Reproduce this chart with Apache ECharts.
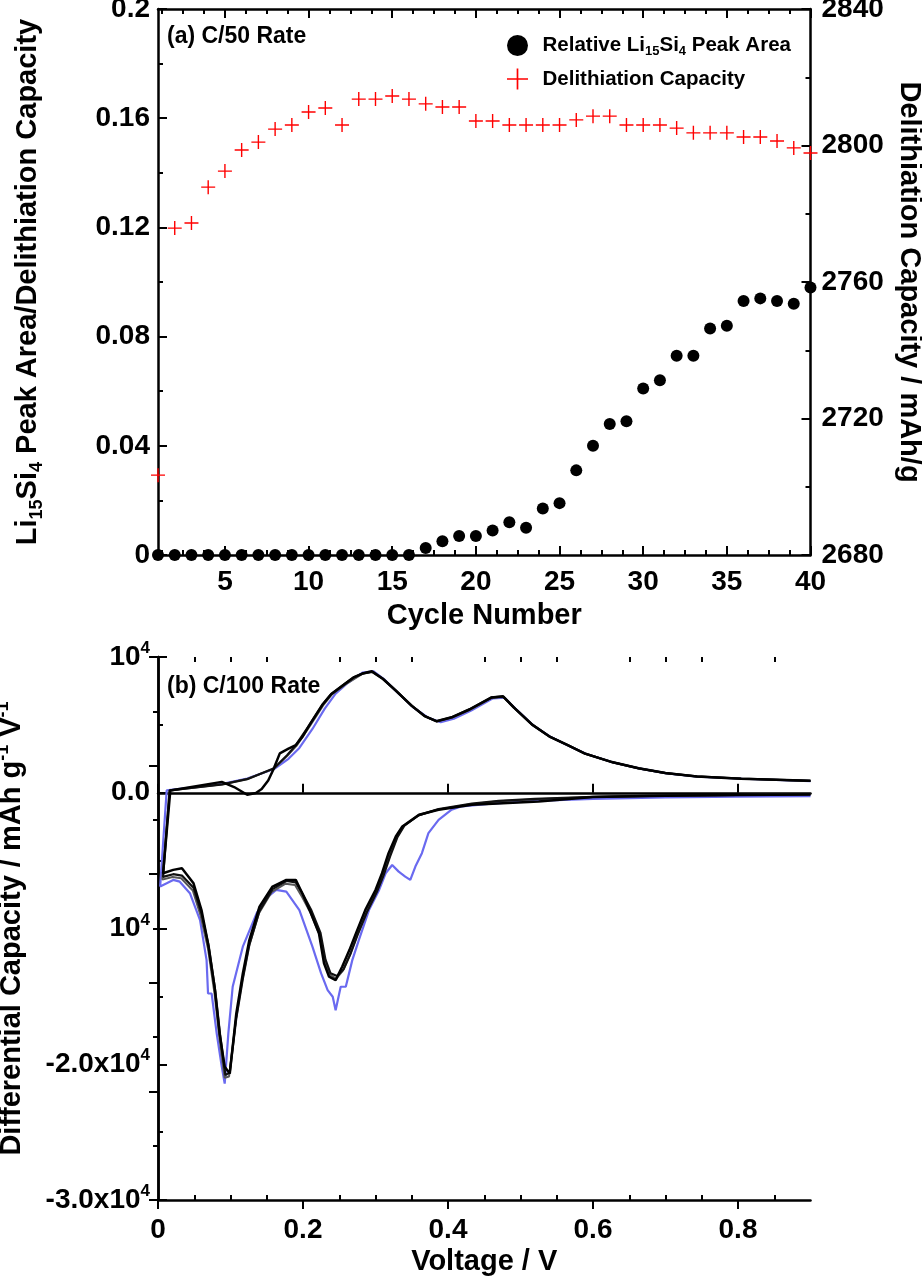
<!DOCTYPE html>
<html><head><meta charset="utf-8">
<script src="https://cdn.jsdelivr.net/npm/echarts@6/dist/echarts.min.js"></script>
<style>html,body{margin:0;padding:0;background:#fff}#c{width:922px;height:1280px}</style>
</head><body><div id="c"></div>
<script>
// ---------- (a) C/50 rate ----------
const cycles = [1,2,3,4,5,6,7,8,9,10,11,12,13,14,15,16,17,18,19,20,21,22,23,24,25,26,27,28,29,30,31,32,33,34,35,36,37,38,39,40];
const peakArea = [0,0,0,0,0,0,0,0,0,0,0,0,0,0,0,0,0.0026,0.005,0.007,0.007,0.009,0.012,0.010,0.017,0.019,0.031,0.040,0.048,0.049,0.061,0.064,0.073,0.073,0.083,0.084,0.093,0.094,0.093,0.092,0.098];
const delithCap = [2703.4,2775.8,2777.3,2787.8,2792.5,2798.7,2801.0,2804.8,2806.0,2809.8,2811.0,2806.0,2813.6,2813.6,2814.5,2813.6,2812.2,2811.3,2811.3,2807.2,2807.2,2806.0,2806.0,2806.0,2806.0,2807.5,2808.6,2808.6,2806.0,2806.0,2806.0,2805.1,2803.7,2803.7,2803.7,2802.5,2802.5,2801.3,2799.3,2797.8];
const cycleTickLabels = [5,10,15,20,25,30,35,40];

// ---------- (b) C/100 rate : [voltage, dQ/dV] ----------
const cycleBlue = [[0.900,-250],[0.800,-280],[0.700,-350],[0.600,-450],[0.520,-600],[0.460,-800],[0.419,-1000],[0.405,-1250],[0.387,-2000],[0.373,-2980],[0.364,-4450],[0.355,-5440],[0.348,-6420],[0.341,-6180],[0.332,-5810],[0.323,-5320],[0.314,-5930],[0.305,-7160],[0.291,-8640],[0.277,-10850],[0.268,-12330],[0.259,-14290],[0.252,-14290],[0.245,-16020],[0.241,-15030],[0.234,-14540],[0.225,-13310],[0.213,-11340],[0.195,-8640],[0.177,-7280],[0.163,-7160],[0.149,-7780],[0.136,-8880],[0.117,-11340],[0.103,-14290],[0.097,-17740],[0.092,-21430],[0.088,-20190],[0.081,-17740],[0.074,-14790],[0.069,-14790],[0.067,-12330],[0.058,-9380],[0.044,-7400],[0.030,-6550],[0.021,-6420],[0.012,-6670],[0.003,-6900],
 [0.012,170],[0.089,650],[0.123,1050],[0.160,1750],[0.180,2500],[0.195,3300],[0.213,4700],[0.230,6200],[0.245,7300],[0.262,8100],[0.282,8850],[0.297,8950],[0.312,8350],[0.330,7400],[0.352,6300],[0.372,5550],[0.390,5200],[0.408,5450],[0.432,6050],[0.462,6950],[0.478,7000],[0.493,6200],[0.518,4950],[0.542,4100],[0.567,3450],[0.591,2850],[0.628,2230],[0.665,1780],[0.702,1430],[0.745,1180],[0.806,1030],[0.900,860]];
const cycleGray = [[0.900,-110],[0.800,-160],[0.700,-220],[0.600,-310],[0.522,-470],[0.470,-620],[0.431,-840],[0.385,-1250],[0.358,-1700],[0.338,-2500],[0.328,-3400],[0.318,-4800],[0.309,-6200],[0.300,-7400],[0.287,-8900],[0.274,-10600],[0.265,-11900],[0.255,-13100],[0.246,-13700],[0.237,-13400],[0.230,-12400],[0.223,-10500],[0.210,-8800],[0.199,-7700],[0.189,-6800],[0.176,-6700],[0.157,-7300],[0.139,-8900],[0.125,-11400],[0.116,-13900],[0.107,-16900],[0.098,-20900],[0.092,-21000],[0.085,-18200],[0.078,-14800],[0.069,-11500],[0.059,-9100],[0.048,-7200],[0.032,-6300],[0.020,-6200],[0.006,-6400],
 [0.016,170],[0.089,630],[0.123,1010],[0.160,1780],[0.178,2700],[0.191,3450],[0.210,4950],[0.228,6450],[0.240,7250],[0.259,8000],[0.283,8800],[0.296,8920],[0.311,8380],[0.329,7500],[0.351,6380],[0.369,5620],[0.385,5250],[0.406,5540],[0.431,6130],[0.461,7000],[0.477,7060],[0.492,6250],[0.517,5000],[0.541,4120],[0.566,3490],[0.590,2870],[0.627,2250],[0.664,1790],[0.701,1440],[0.744,1190],[0.805,1040],[0.900,870]];
const cycleBlackB = [[0.900,-100],[0.800,-150],[0.700,-200],[0.600,-300],[0.520,-450],[0.470,-600],[0.433,-800],[0.387,-1200],[0.360,-1650],[0.340,-2400],[0.330,-3300],[0.320,-4700],[0.311,-6100],[0.302,-7300],[0.288,-8800],[0.275,-10500],[0.266,-11800],[0.256,-13000],[0.247,-13500],[0.238,-13300],[0.231,-12300],[0.224,-10300],[0.211,-8600],[0.200,-7500],[0.190,-6600],[0.177,-6500],[0.158,-7100],[0.140,-8700],[0.126,-11200],[0.117,-13700],[0.108,-16600],[0.099,-20600],[0.093,-20800],[0.086,-18000],[0.079,-14600],[0.070,-11300],[0.060,-8900],[0.049,-7000],[0.033,-6100],[0.021,-6000],[0.007,-6200],
 [0.016,170],[0.089,620],[0.123,1000],[0.160,1800],[0.178,2760],[0.190,3500],[0.209,5000],[0.227,6500],[0.239,7270],[0.258,8030],[0.270,8500],[0.282,8780],[0.295,8900],[0.310,8400],[0.328,7520],[0.350,6400],[0.368,5640],[0.384,5270],[0.405,5560],[0.430,6150],[0.460,7020],[0.476,7080],[0.491,6270],[0.516,5020],[0.540,4140],[0.565,3510],[0.589,2880],[0.626,2260],[0.663,1800],[0.700,1450],[0.743,1200],[0.804,1050],[0.900,880]];
const cycleBlackA = [[0.900,-120],[0.800,-170],[0.700,-230],[0.600,-320],[0.525,-640],[0.433,-890],[0.387,-1250],[0.360,-1620],[0.337,-2490],[0.328,-3220],[0.318,-4450],[0.309,-5930],[0.300,-7160],[0.286,-8630],[0.273,-10360],[0.264,-11590],[0.254,-12820],[0.245,-13800],[0.236,-13550],[0.229,-12570],[0.222,-10360],[0.209,-8630],[0.199,-7400],[0.190,-6420],[0.177,-6420],[0.158,-6910],[0.140,-8390],[0.126,-10850],[0.117,-13310],[0.108,-16260],[0.099,-20690],[0.092,-20190],[0.085,-17730],[0.078,-14290],[0.069,-11100],[0.060,-8640],[0.049,-6670],[0.033,-5560],[0.021,-5680],[0.007,-5930],
 [0.017,170],[0.088,800],[0.105,420],[0.123,-150],[0.135,-20],[0.143,270],[0.152,900],[0.159,1700],[0.168,2900],[0.180,3250],[0.190,3500],[0.199,4100],[0.209,5000],[0.227,6500],[0.239,7270],[0.258,8030],[0.270,8500],[0.282,8780],[0.295,8950],[0.310,8400],[0.328,7520],[0.350,6400],[0.368,5640],[0.384,5270],[0.405,5560],[0.430,6150],[0.460,7020],[0.476,7100],[0.491,6270],[0.516,5020],[0.540,4140],[0.565,3510],[0.589,2880],[0.626,2260],[0.663,1800],[0.700,1450],[0.743,1200],[0.804,1030],[0.900,880]];
const voltageTickLabels = [0,0.2,0.4,0.6,0.8];
const dqdvTicks = [-30000,-20000,-10000,0,10000];
const dqdvTickText = [['-3.0x10','4'],['-2.0x10','4'],['10','4'],['0.0',''],['10','4']];

// ---------- styling ----------
const FF = '"Liberation Sans", Arial, Helvetica, sans-serif';
const BLK = '#000';
const AX = {color: BLK, width: 2.5};
const TK = {color: BLK, width: 2};
const lbl = (extra) => Object.assign({color: BLK, fontSize: 28, fontWeight: 'bold', fontFamily: FF}, extra);
const PLUS = 'path://M0,9h20v2h-20z M9,0h2v20h-2z';
const PLUS_LEG = 'path://M0,9.2h20v1.6h-20z M9.2,0h1.6v20h-1.6z';

const minorCycle = [];
for (let k = 1; k * 1.25 < 40; k++) { if (k % 4 !== 0) minorCycle.push(k * 1.25); }
const minorVolt = [];
for (let k = 1; k * 0.05 < 0.9 - 1e-9; k++) { if (k % 4 !== 0) minorVolt.push(+(k * 0.05).toFixed(2)); }

function tickOnlyX(grid, min, max, pos, vals, len, showLine) {
  return {type: 'value', gridIndex: grid, min, max, position: pos,
    axisLine: {show: showLine, lineStyle: AX}, splitLine: {show: false},
    axisLabel: {show: false},
    axisTick: {show: true, inside: true, length: len, lineStyle: TK, customValues: vals}};
}

const subRich = {
  n: {fontSize: 29, fontWeight: 'bold', fontFamily: FF, color: BLK, lineHeight: 36},
  s: {fontSize: 18, fontWeight: 'bold', fontFamily: FF, color: BLK, lineHeight: 18, verticalAlign: 'bottom'},
  p: {fontSize: 18, fontWeight: 'bold', fontFamily: FF, color: BLK, lineHeight: 18, verticalAlign: 'top'}
};

const chart = echarts.init(document.getElementById('c'), null, {renderer: 'canvas'});
chart.setOption({
  animation: false,
  backgroundColor: '#fff',
  grid: [
    {left: 158, top: 9, width: 652.5, height: 546, outerBoundsMode: 'none'},
    {left: 158, top: 657, width: 652.5, height: 543, outerBoundsMode: 'none'}
  ],
  legend: {
    show: true, orient: 'vertical', left: 502, top: 30, itemWidth: 40, itemHeight: 21, itemGap: 11,
    selectedMode: false,
    data: [{name: 'Relative Li15Si4 Peak Area', icon: 'circle'}, {name: 'Delithiation Capacity', icon: PLUS_LEG}],
    formatter: (n) => n === 'Relative Li15Si4 Peak Area' ? '{t|Relative Li}{s|15}{t|Si}{s|4}{t| Peak Area}' : '{t|' + n + '}',
    textStyle: {color: BLK, fontSize: 20.5, fontWeight: 'bold', fontFamily: FF,
      rich: {t: {fontSize: 20.5, fontWeight: 'bold', fontFamily: FF, color: BLK, lineHeight: 24},
             s: {fontSize: 13, fontWeight: 'bold', fontFamily: FF, color: BLK, lineHeight: 13, verticalAlign: 'bottom'}}}
  },
  graphic: [
    {type: 'text', left: 167, top: 25, style: {text: '(a) C/50 Rate', fill: BLK, font: 'bold 23px ' + FF}},
    {type: 'text', left: 167, top: 675, style: {text: '(b) C/100 Rate', fill: BLK, font: 'bold 23px ' + FF}}
  ],
  xAxis: [
    {type: 'value', gridIndex: 0, min: 1, max: 40, position: 'bottom',
      axisLine: {show: true, lineStyle: AX}, splitLine: {show: false},
      axisTick: {show: true, inside: true, length: 9, lineStyle: TK, customValues: cycleTickLabels},
      axisLabel: lbl({margin: 13, customValues: cycleTickLabels}),
      name: 'Cycle Number', nameLocation: 'middle', nameGap: 46,
      nameTextStyle: {color: BLK, fontSize: 29, fontWeight: 'bold', fontFamily: FF}},
    tickOnlyX(0, 1, 40, 'top', cycleTickLabels, 9, true),
    tickOnlyX(0, 1, 40, 'top', minorCycle, 5, false),
    tickOnlyX(0, 1, 40, 'bottom', minorCycle, 5, false),
    {type: 'value', gridIndex: 1, min: 0, max: 0.9, position: 'bottom',
      axisLine: {show: true, lineStyle: AX}, splitLine: {show: false},
      axisTick: {show: true, inside: true, length: 9, lineStyle: TK, customValues: voltageTickLabels},
      axisLabel: lbl({margin: 16, customValues: voltageTickLabels, formatter: (v) => v === 0 ? '0' : v.toFixed(1)}),
      name: 'Voltage / V', nameLocation: 'middle', nameGap: 47,
      nameTextStyle: {color: BLK, fontSize: 29, fontWeight: 'bold', fontFamily: FF}},
    tickOnlyX(1, 0, 0.9, 'top', voltageTickLabels, 9, true),
    tickOnlyX(1, 0, 0.9, 'top', minorVolt, 5, false),
    tickOnlyX(1, 0, 0.9, 'bottom', minorVolt, 5, false)
  ],
  yAxis: [
    {type: 'value', gridIndex: 0, min: 0, max: 0.2, interval: 0.04, position: 'left',
      axisLine: {show: true, lineStyle: AX}, splitLine: {show: false},
      axisTick: {show: true, inside: true, length: 9, lineStyle: TK},
      minorTick: {show: true, splitNumber: 2, length: 5, lineStyle: TK},
      axisLabel: lbl({margin: 8}),
      name: '{n|Li}{s|15}{n|Si}{s|4}{n| Peak Area/Delithiation Capacity}', nameLocation: 'middle', nameGap: 112, nameRotate: 90,
      nameTextStyle: {rich: subRich}},
    {type: 'value', gridIndex: 0, min: 2680, max: 2840, interval: 40, position: 'right',
      axisLine: {show: true, lineStyle: AX}, splitLine: {show: false},
      axisTick: {show: true, inside: true, length: 9, lineStyle: TK},
      minorTick: {show: true, splitNumber: 2, length: 5, lineStyle: TK},
      axisLabel: lbl({margin: 11, formatter: (v) => String(v)}),
      name: 'Delithiation Capacity / mAh/g', nameLocation: 'middle', nameGap: 70, nameRotate: -90,
      nameTextStyle: {color: BLK, fontSize: 29, fontWeight: 'bold', fontFamily: FF}},
    {type: 'value', gridIndex: 1, min: -30000, max: 10000, interval: 10000, position: 'left',
      axisLine: {show: true, lineStyle: AX}, splitLine: {show: false},
      axisTick: {show: true, inside: true, length: 9, lineStyle: TK},
      minorTick: {show: true, splitNumber: 2, length: 5, lineStyle: TK},
      axisLabel: {margin: 8, formatter: (v) => {
        const i = dqdvTicks.indexOf(v); if (i < 0) return '';
        const t = dqdvTickText[i];
        return '{b|' + t[0] + '}' + (t[1] ? '{p|' + t[1] + '}' : '');
      }, rich: {
        b: {fontSize: 28, fontWeight: 'bold', fontFamily: FF, color: BLK, lineHeight: 34},
        p: {fontSize: 17, fontWeight: 'bold', fontFamily: FF, color: BLK, lineHeight: 17, verticalAlign: 'top'}}},
      name: '{n|Differential Capacity / mAh g}{p|-1}{n| V}{p|-1}', nameLocation: 'middle', nameGap: 128, nameRotate: 90,
      nameTextStyle: {rich: subRich}},
    {type: 'value', gridIndex: 1, min: 0, max: 5, interval: 1, position: 'right',
      axisLine: {show: true, lineStyle: AX}, splitLine: {show: false},
      axisTick: {show: true, inside: true, length: 9, lineStyle: TK},
      minorTick: {show: true, splitNumber: 2, length: 5, lineStyle: TK},
      axisLabel: {show: false}}
  ],
  series: [
    {name: 'Relative Li15Si4 Peak Area', type: 'scatter', xAxisIndex: 0, yAxisIndex: 0, clip: false,
      symbol: 'circle', symbolSize: 12, itemStyle: {color: BLK, opacity: 1}, z: 5,
      data: cycles.map((c, i) => [c, peakArea[i]])},
    {name: 'Delithiation Capacity', type: 'scatter', xAxisIndex: 0, yAxisIndex: 1, clip: false,
      symbol: PLUS, symbolSize: 14, itemStyle: {color: '#ff0000', opacity: 1}, z: 5,
      data: cycles.map((c, i) => [c, delithCap[i]])},
    {name: 'blue', type: 'line', xAxisIndex: 4, yAxisIndex: 2, showSymbol: false, symbol: 'none',
      lineStyle: {color: '#6a6af0', width: 2.2}, data: cycleBlue, z: 2},
    {name: 'gray', type: 'line', xAxisIndex: 4, yAxisIndex: 2, showSymbol: false, symbol: 'none',
      lineStyle: {color: '#555', width: 2}, data: cycleGray, z: 3},
    {name: 'blackB', type: 'line', xAxisIndex: 4, yAxisIndex: 2, showSymbol: false, symbol: 'none',
      lineStyle: {color: '#111', width: 2.2}, data: cycleBlackB, z: 3},
    {name: 'blackA', type: 'line', xAxisIndex: 4, yAxisIndex: 2, showSymbol: false, symbol: 'none',
      lineStyle: {color: '#000', width: 2.5}, data: cycleBlackA, z: 4}
  ]
});
</script></body></html>
